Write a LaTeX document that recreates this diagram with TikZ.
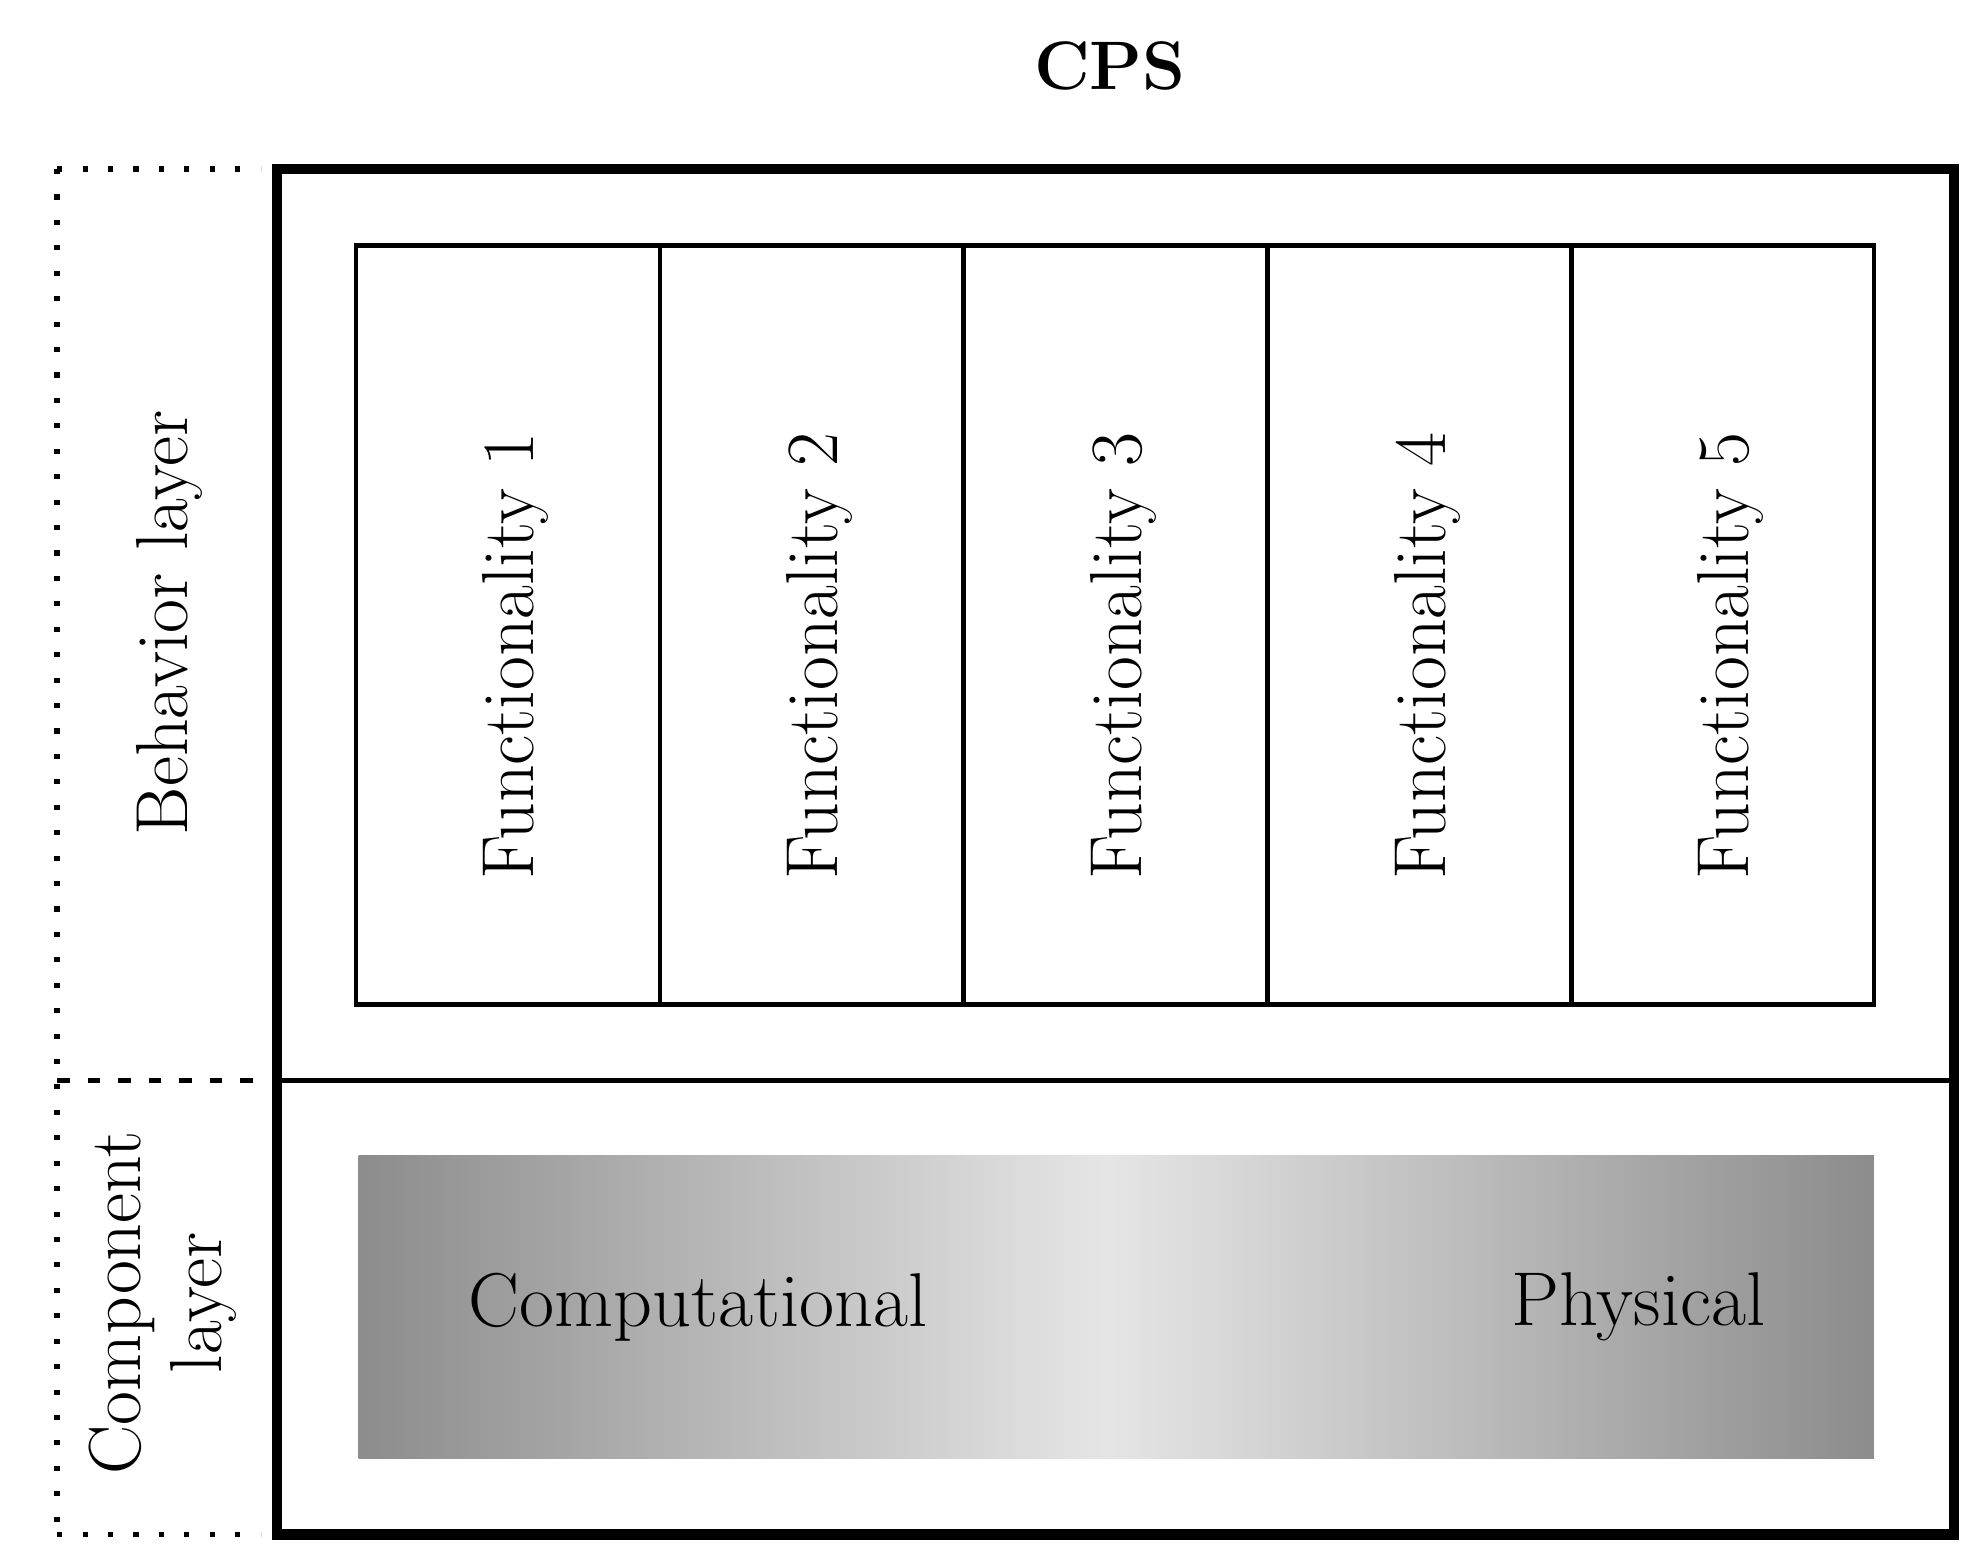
\documentclass[tikz,border=0pt]{standalone}
\begin{document}
\begin{tikzpicture}[x=1pt,y=-1pt,
  fbox/.style={draw,line width=3.5pt},
  big/.style={font=\fontsize{58}{64}\selectfont},
  dots/.style={line width=4.5pt,dash pattern=on 4pt off 16pt}]
\useasboundingbox (0,0) rectangle (1552,1230);
\node[font=\bfseries\fontsize{54}{60}\selectfont] (cps) at (873,52) {CPS};
% gradient
\shade[left color=black!45,right color=black!10] (282,909) rectangle (870,1147);
\shade[left color=black!10,right color=black!45] (870,909) rectangle (1474,1147);
\node[font=\fontsize{60}{66}\selectfont] (comp) at (549,1028) {Computational};
\node[font=\fontsize{60}{66}\selectfont] (phys) at (1289,1028) {Physical};
% functionality boxes
\foreach \i/\a/\b in {1/280/519,2/519/758,3/758/997,4/997/1236,5/1236/1474}{
  \draw[fbox] (\a,193) rectangle (\b,790);
  \node[big,rotate=90] (f\i) at ({(\a+\b)/2+6},516) {Functionality \i};
}
% outer
\draw[line width=8pt] (218,133) rectangle (1537,1207);
\draw[line width=4.5pt] (218,850) -- (1537,850);
% dotted
\draw[dots] (45,133) -- (45,1207);
\draw[dots] (45,133) -- (205,133);
\draw[dots] (45,1207) -- (205,1207);
\draw[line width=4pt,dash pattern=on 10pt off 14pt] (45,850) -- (210,850);
\node[big,rotate=90] (beh) at (133,490) {Behavior layer};
\node[big,rotate=90,align=center] (cl) at (128,1025) {Component\\layer};
\end{tikzpicture}
\end{document}
